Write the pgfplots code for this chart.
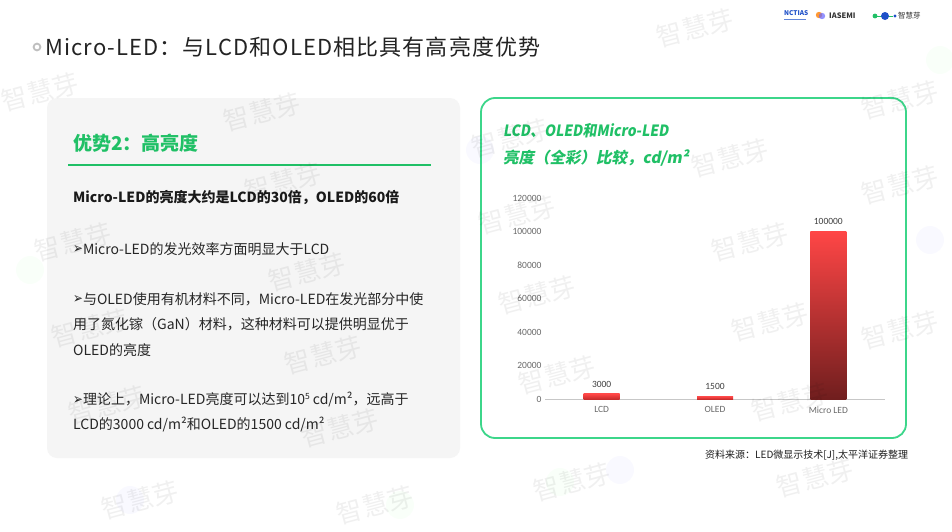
\documentclass[border=0pt]{standalone}
\usepackage{pgfplots}
\pgfplotsset{compat=1.18}
\usepackage{fontspec}
\setmainfont{Noto Sans CJK SC}
\newfontfamily\titlefont{Noto Sans CJK SC}[LetterSpace=5]
\newfontfamily\cjkit{Noto Sans CJK SC}[FakeSlant=0.18]
\newfontfamily\dejavu{DejaVu Sans}
\newfontfamily\carlito{Carlito}
\definecolor{titlegray}{RGB}{35,35,35}
\definecolor{brandgreen}{RGB}{32,192,102}
\definecolor{boxgreen}{RGB}{60,214,138}
\definecolor{panelgray}{RGB}{245,245,245}
\definecolor{barTop}{RGB}{255,70,70}
\definecolor{barBot}{RGB}{112,30,30}
\definecolor{barBotS}{RGB}{200,45,45}
\definecolor{tickgray}{RGB}{105,105,105}
\definecolor{logoblue}{RGB}{30,80,200}
\newcommand\arr{\raisebox{0.05em}{\scalebox{0.78}[1]{\dejavu\fontsize{15bp}{15bp}\selectfont ➢}}}
\begin{document}
\begin{tikzpicture}
\path[use as bounding box, fill=white] (0,0) rectangle (952bp,-532bp);
% faint blobs
\foreach \x/\y/\c in {560/482/green,620/470/blue,400/505/green,130/500/blue,940/60/green,930/240/blue,30/270/green,480/150/blue}{
  \fill[\c, opacity=0.025] (\x bp,-\y bp) circle (14bp);
}
% slide title
\draw[gray!50, line width=1.8bp] (37bp,-47bp) circle (3.4bp);
\node[anchor=west, inner sep=0, text=titlegray, font=\titlefont\fontsize{22bp}{25bp}\selectfont] at (45bp,-47bp) {Micro-LED：与LCD和OLED相比具有高亮度优势};
% logos
\node[anchor=west, inner sep=0, text=logoblue, font=\fontsize{6.5bp}{7bp}\selectfont\bfseries\itshape] at (784bp,-13bp) {NCTIAS};
\draw[logoblue!70, line width=0.4bp] (784bp,-19bp) -- (806bp,-19bp);
\fill[orange!80] (819bp,-15bp) circle (3.2bp);
\fill[blue!60, opacity=0.7] (822bp,-16bp) circle (3.2bp);
\node[anchor=west, inner sep=0, text=black!80, font=\fontsize{7.5bp}{8bp}\selectfont\bfseries] at (829bp,-16bp) {IASEMI};
\fill[brandgreen] (875bp,-16bp) circle (2.4bp);
\draw[brandgreen, line width=1bp] (875bp,-16bp) -- (893bp,-16bp);
\fill[logoblue] (885bp,-16bp) circle (4bp);
\fill[logoblue] (895bp,-16bp) circle (1.6bp);
\node[anchor=west, inner sep=0, text=black!80, font=\fontsize{7.5bp}{8bp}\selectfont] at (898bp,-16bp) {智慧芽};
% left panel
\fill[panelgray, rounded corners=10bp] (47bp,-98bp) rectangle (460bp,-458bp);
\node[anchor=west, inner sep=0, text=brandgreen, font=\fontsize{19bp}{22bp}\selectfont\bfseries] at (73bp,-143bp) {优势2：高亮度};
\draw[brandgreen, line width=2.2bp] (68bp,-165bp) -- (431bp,-165bp);
\node[anchor=west, inner sep=0, text=black!90, font=\fontsize{14bp}{17bp}\selectfont\bfseries] at (73bp,-198bp) {Micro-LED的亮度大约是LCD的30倍，OLED的60倍};
\begin{scope}[every node/.style={anchor=west, inner sep=0, text=black!85, font=\fontsize{14bp}{17bp}\selectfont}]
\node at (73bp,-249bp) {\arr Micro-LED的发光效率方面明显大于LCD};
\node at (73bp,-299bp) {\arr 与OLED使用有机材料不同，Micro-LED在发光部分中使};
\node at (73bp,-324bp) {用了氮化镓（GaN）材料，这种材料可以提供明显优于};
\node at (73bp,-350bp) {OLED的亮度};
\node at (73bp,-400bp) {\arr 理论上，Micro-LED亮度可以达到10\raisebox{0.42em}{\fontsize{8.5bp}{9bp}\selectfont 5} cd/m²，远高于};
\node at (73bp,-425bp) {LCD的3000 cd/m²和OLED的1500 cd/m²};
\end{scope}
% chart box
\draw[boxgreen, line width=1.8bp, rounded corners=14bp] (481bp,-98bp) rectangle (906bp,-438bp);
\node[anchor=west, inner sep=0, xscale=0.9, text=brandgreen, font=\fontsize{15.5bp}{18bp}\cjkit\bfseries] at (503bp,-131bp) {LCD、OLED和Micro-LED};
\node[anchor=west, inner sep=0, text=brandgreen, font=\fontsize{15.5bp}{18bp}\cjkit\bfseries] at (503bp,-158bp) {亮度（全彩）比较，cd/m²};
\begin{axis}[
  at={(545bp,-399bp)}, anchor=south west,
  scale only axis, width=340bp, height=201bp,
  xmin=-0.5, xmax=2.5, ymin=0, ymax=120000,
  xtick={0,1,2}, xticklabels={LCD,OLED,Micro LED},
  ytick={0,20000,40000,60000,80000,100000,120000},
  scaled y ticks=false,
  /pgf/number format/.cd, fixed, precision=0, 1000 sep={}, assume math mode=true, /pgfplots/.cd,
  axis x line*=bottom, axis y line*=left,
  y axis line style={draw=none},
  x axis line style={draw=black!22, -},
  major tick length=0,
  yticklabel style={font=\carlito\fontsize{9.5bp}{10bp}\selectfont, text=tickgray},
  xticklabel style={font=\carlito\fontsize{9.5bp}{10bp}\selectfont, text=tickgray, yshift=-4bp},
  ybar, bar width=36bp, bar shift=0pt,
  nodes near coords,
  nodes near coords style={font=\carlito\fontsize{9.5bp}{10bp}\selectfont, text=black!75, yshift=3bp},
  clip=false,
]
\addplot[draw=none, top color=barTop, bottom color=barBotS] coordinates {(0,3000)};
\addplot[draw=none, top color=barTop, bottom color=barBotS] coordinates {(1,1500)};
\addplot[draw=none, top color=barTop, bottom color=barBot] coordinates {(2,100000)};
\end{axis}
% source
\node[anchor=west, inner sep=0, text=black!88, font=\fontsize{10bp}{12bp}\selectfont] at (705bp,-455bp) {资料来源：LED微显示技术[J],太平洋证券整理};
% watermarks
\foreach \x/\y in {695/28,900/100,40/92,262/112,283/182,73/242,307/272,90/328,323/355,107/405,340/428,510/138,730/158,517/215,750/242,537/295,770/322,557/375,790/402,572/482,375/505,140/500,815/478,900/185,900/330}{
  \node[rotate=15, text=black, opacity=0.06, font=\fontsize{26bp}{28bp}\selectfont] at (\x bp,-\y bp) {智慧芽};
}
\end{tikzpicture}
\end{document}
